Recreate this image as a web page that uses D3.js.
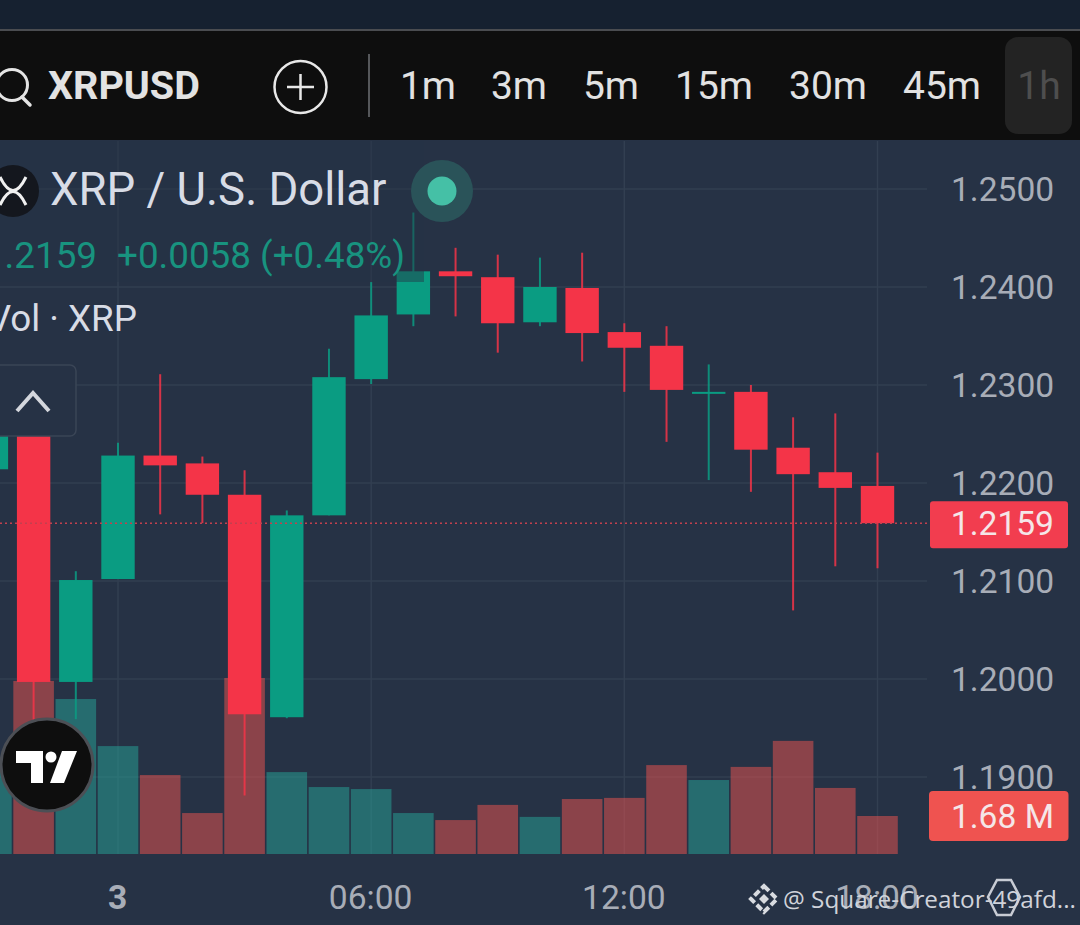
<!DOCTYPE html>
<html>
<head>
<meta charset="utf-8">
<script src="https://cdn.jsdelivr.net/npm/d3@7"></script>
<style>
html, body { margin: 0; padding: 0; background: #263245; overflow: hidden; }
svg { display: block; }
text { font-family: Roboto, sans-serif; }
</style>
</head>
<body>
<div id="chart-area"></div>
<script>
// hourly candles, hour 0 is the start of the 3rd
var hours   = [-3, -2, -1, 0, 1, 2, 3, 4, 5, 6, 7, 8, 9, 10, 11, 12, 13, 14, 15, 16, 17, 18];
var opens   = [1.2214, 1.2285, 1.1997, 1.2102, 1.2228, 1.2220, 1.2188, 1.1961, 1.2167, 1.2306, 1.2372, 1.2416, 1.2410, 1.2364, 1.2399, 1.2354, 1.2340, 1.2292, 1.2293, 1.2236, 1.2211, 1.2197];
var highs   = [1.2290, 1.2300, 1.2110, 1.2241, 1.2311, 1.2227, 1.2213, 1.2172, 1.2337, 1.2405, 1.2476, 1.2440, 1.2433, 1.2430, 1.2435, 1.2363, 1.2360, 1.2321, 1.2300, 1.2267, 1.2271, 1.2231];
var lows    = [1.2208, 1.1956, 1.1959, 1.2102, 1.2168, 1.2159, 1.1881, 1.1960, 1.2167, 1.2301, 1.2360, 1.2370, 1.2333, 1.2360, 1.2324, 1.2293, 1.2242, 1.2203, 1.2191, 1.2070, 1.2115, 1.2113];
var closes  = [1.2285, 1.1997, 1.2101, 1.2228, 1.2218, 1.2188, 1.1964, 1.2167, 1.2308, 1.2371, 1.2416, 1.2411, 1.2363, 1.2400, 1.2353, 1.2338, 1.2295, 1.2293, 1.2234, 1.2209, 1.2195, 1.2159];
var volumes = [3.71, 7.65, 6.85, 4.77, 3.49, 1.81, 7.78, 3.62, 2.96, 2.87, 1.81, 1.50, 2.17, 1.64, 2.43, 2.48, 3.93, 3.27, 3.85, 5.00, 2.92, 1.68];

var priceTicks = [1.25, 1.24, 1.23, 1.22, 1.21, 1.20, 1.19];
var timeTicks  = [0, 6, 12, 18];
var timeLabels = ["3", "06:00", "12:00", "18:00"];
var intervals  = ["1m", "3m", "5m", "15m", "30m", "45m"];
var lastPrice  = 1.2159;
var lastVolume = 1.68;

var width = 1080;
var height = 925;
var up = "#0a9c82";
var down = "#f43448";
var bg = "#263245";
var grid = "#323f51";
var labelColor = "#a8adb7";

var svg = d3.select("#chart-area")
	.append("svg")
	.attr("width", width)
	.attr("height", height);

var x = d3.scaleLinear().domain([0, 18]).range([118, 877.5]);
var y = d3.scaleLinear().domain([1.25, 1.19]).range([189, 777]);
var v = d3.scaleLinear().domain([0, 8]).range([854, 673]);

var bodyWidth = 33.4;
var volWidth = 40.6;
var rows = hours.map((h, i) => {
	return {h: h, o: opens[i], hi: highs[i], lo: lows[i], c: closes[i], vol: volumes[i]};
});

// background and top bars
svg.append("rect").attr("width", width).attr("height", height).attr("fill", bg);
svg.append("rect").attr("width", width).attr("height", 31).attr("fill", "#162130");

// grid
svg.append("g").selectAll("line").data(priceTicks).enter().append("line")
	.attr("x1", 0).attr("x2", 927)
	.attr("y1", (d) => { return y(d); }).attr("y2", (d) => { return y(d); })
	.attr("stroke", grid).attr("stroke-width", 1.5);
svg.append("g").selectAll("line").data(timeTicks).enter().append("line")
	.attr("x1", (d) => { return x(d); }).attr("x2", (d) => { return x(d); })
	.attr("y1", 141).attr("y2", 854)
	.attr("stroke", grid).attr("stroke-width", 1.5);

// volume
svg.append("g").selectAll("rect").data(rows).enter().append("rect")
	.attr("x", (d) => { return x(d.h) - volWidth / 2; })
	.attr("y", (d) => { return v(d.vol); })
	.attr("width", volWidth)
	.attr("height", (d) => { return v(0) - v(d.vol); })
	.attr("fill", (d) => { return d.c >= d.o ? "#26a69a" : "#ef5350"; })
	.attr("fill-opacity", 0.5);

// wicks then bodies
svg.append("g").selectAll("line").data(rows).enter().append("line")
	.attr("x1", (d) => { return x(d.h); }).attr("x2", (d) => { return x(d.h); })
	.attr("y1", (d) => { return y(d.hi); }).attr("y2", (d) => { return y(d.lo); })
	.attr("stroke", (d) => { return d.c >= d.o ? up : down; })
	.attr("stroke-opacity", 0.85)
	.attr("stroke-width", 2);
svg.append("g").selectAll("rect").data(rows).enter().append("rect")
	.attr("x", (d) => { return x(d.h) - bodyWidth / 2; })
	.attr("y", (d) => { return y(Math.max(d.o, d.c)); })
	.attr("width", bodyWidth)
	.attr("height", (d) => { return Math.max(2, Math.abs(y(d.o) - y(d.c))); })
	.attr("fill", (d) => { return d.c >= d.o ? up : down; });

// last price line
svg.append("line")
	.attr("x1", 0).attr("x2", 930)
	.attr("y1", y(lastPrice)).attr("y2", y(lastPrice))
	.attr("stroke", "#c2404f").attr("stroke-width", 1.5)
	.attr("stroke-dasharray", "2 3");

// legend veil over the chart
svg.append("rect")
	.attr("x", 0).attr("y", 141).attr("width", 424).attr("height", 141)
	.attr("fill", bg).attr("fill-opacity", 0.45);

// price axis
var rightAxis = d3.axisRight(y)
	.tickValues(priceTicks)
	.tickSize(0)
	.tickPadding(0)
	.tickFormat(d3.format(".4f"));
var priceAxis = svg.append("g")
	.attr("transform", "translate(951, 1)")
	.call(rightAxis);
priceAxis.select(".domain").remove();
priceAxis.selectAll("text")
	.attr("font-size", "33.6px")
	.attr("font-family", "Roboto")
	.attr("fill", labelColor);

// time axis
var bottomAxis = d3.axisBottom(x)
	.tickValues(timeTicks)
	.tickSize(0)
	.tickPadding(0)
	.tickFormat((d, i) => { return timeLabels[i]; });
var timeAxis = svg.append("g")
	.attr("transform", "translate(-1, 885)")
	.call(bottomAxis);
timeAxis.select(".domain").remove();
timeAxis.selectAll("text")
	.attr("font-size", "33.6px")
	.attr("font-family", "Roboto")
	.attr("fill", labelColor)
	.attr("font-weight", (d) => { return d === 0 ? 700 : 400; });

// price tags
svg.append("rect").attr("x", 930).attr("y", y(lastPrice) - 22).attr("width", 138).attr("height", 47)
	.attr("rx", 3).attr("fill", "#f23d4f");
svg.append("text").attr("x", 1054).attr("y", y(lastPrice) + 12)
	.attr("text-anchor", "end").attr("font-size", "33.6px").attr("fill", "#f5e6e8")
	.text(d3.format(".4f")(lastPrice));
svg.append("rect").attr("x", 929).attr("y", 791).attr("width", 139.5).attr("height", 50)
	.attr("rx", 4).attr("fill", "#ef5350");
svg.append("text").attr("x", 1054).attr("y", 828)
	.attr("text-anchor", "end").attr("font-size", "33.6px").attr("fill", "#f5e6e8")
	.text(lastVolume + " M");

// toolbar
svg.append("rect").attr("y", 30).attr("width", width).attr("height", 110).attr("fill", "#0e0e0e");
svg.append("line").attr("x1", 0).attr("x2", width).attr("y1", 30).attr("y2", 30)
	.attr("stroke", "#4a4c50").attr("stroke-width", 2);
svg.append("circle").attr("cx", 12).attr("cy", 85).attr("r", 15.5)
	.attr("fill", "none").attr("stroke", "#e4e4e4").attr("stroke-width", 3);
svg.append("line").attr("x1", 22).attr("y1", 97).attr("x2", 30).attr("y2", 105)
	.attr("stroke", "#e4e4e4").attr("stroke-width", 3.5).attr("stroke-linecap", "round");
svg.append("text").attr("x", 48).attr("y", 99)
	.attr("font-size", "39.5px").attr("font-weight", 700).attr("fill", "#e2e2e2")
	.text("XRPUSD");
svg.append("circle").attr("cx", 300.5).attr("cy", 87).attr("r", 26)
	.attr("fill", "none").attr("stroke", "#e8e8e8").attr("stroke-width", 2.5);
svg.append("path").attr("d", "M287,87H314M300.5,74V100")
	.attr("stroke", "#e8e8e8").attr("stroke-width", 2.5).attr("fill", "none");
svg.append("line").attr("x1", 369).attr("x2", 369).attr("y1", 54).attr("y2", 117)
	.attr("stroke", "#55575a").attr("stroke-width", 2);

var intervalCentres = [428, 519, 611, 714, 828, 942];
svg.append("g").selectAll("text").data(intervals).enter().append("text")
	.attr("x", (d, i) => { return intervalCentres[i]; })
	.attr("y", 99)
	.attr("text-anchor", "middle")
	.attr("font-size", "39px")
	.attr("fill", "#e2e2e2")
	.text((d) => { return d; });
svg.append("rect").attr("x", 1005).attr("y", 37).attr("width", 67).attr("height", 97)
	.attr("rx", 13).attr("fill", "#232323");
svg.append("text").attr("x", 1039).attr("y", 99)
	.attr("text-anchor", "middle").attr("font-size", "39px").attr("fill", "#4e4e4e")
	.text("1h");

// legend
svg.append("circle").attr("cx", 13).attr("cy", 191).attr("r", 26).attr("fill", "#14171e");
svg.append("path").attr("d", "M0,177Q13,204 26,177M0,205Q13,178 26,205")
	.attr("fill", "none").attr("stroke", "#f0f0f0").attr("stroke-width", 3);
svg.append("text").attr("x", 50).attr("y", 205)
	.attr("font-size", "45.5px").attr("fill", "#d8dce6")
	.text("XRP / U.S. Dollar");
svg.append("circle").attr("cx", 442).attr("cy", 191).attr("r", 31).attr("fill", "#2a5359");
svg.append("circle").attr("cx", 442).attr("cy", 191).attr("r", 14.5).attr("fill", "#45c0a6");
svg.append("text").attr("x", 97).attr("y", 268).attr("text-anchor", "end")
	.attr("font-size", "36.8px").attr("fill", "#18937f")
	.text("1.2159");
svg.append("text").attr("x", 117).attr("y", 268)
	.attr("font-size", "36.8px").attr("fill", "#18937f")
	.text("+0.0058 (+0.48%)");
svg.append("text").attr("x", 137).attr("y", 331).attr("text-anchor", "end")
	.attr("font-size", "36.8px").attr("fill", "#d8dce6")
	.text("Vol · XRP");

// collapse button
svg.append("rect").attr("x", -10).attr("y", 365).attr("width", 86).attr("height", 71)
	.attr("rx", 6).attr("fill", bg).attr("stroke", "#3a4556").attr("stroke-width", 1.5);
svg.append("path").attr("d", "M17,411L33,393L49,411")
	.attr("fill", "none").attr("stroke", "#d4d7dd").attr("stroke-width", 4);

// tradingview badge
svg.append("circle").attr("cx", 47).attr("cy", 765).attr("r", 46)
	.attr("fill", "#0e0e0e").attr("stroke", "#4c4f55").attr("stroke-width", 3);
svg.append("path").attr("d", "M16,751H43V783H31V763H16Z M62,751H77L64,783H50Z").attr("fill", "#fff");
svg.append("circle").attr("cx", 51).attr("cy", 757).attr("r", 5.5).attr("fill", "#fff");

// watermark
svg.append("path").attr("d", "M764,886L777,899L764,912L751,899Z")
	.attr("fill", "none").attr("stroke", "#d8dbe0").attr("stroke-width", 4).attr("stroke-dasharray", "7 3");
svg.append("path").attr("d", "M764,894L769,899L764,904L759,899Z").attr("fill", "#d8dbe0");
svg.append("path").attr("d", "M997,880H1011L1020,897L1011,915H997L988,897Z")
	.attr("fill", "none").attr("stroke", "#c8ccd4").attr("stroke-width", 2.5);
svg.append("text").attr("x", 783).attr("y", 908)
	.style("font-family", "'Open Sans'")
	.attr("font-size", "24.3px").attr("fill", "#d0d3da")
	.text("@ Square-Creator-49afd...");
</script>
</body>
</html>
